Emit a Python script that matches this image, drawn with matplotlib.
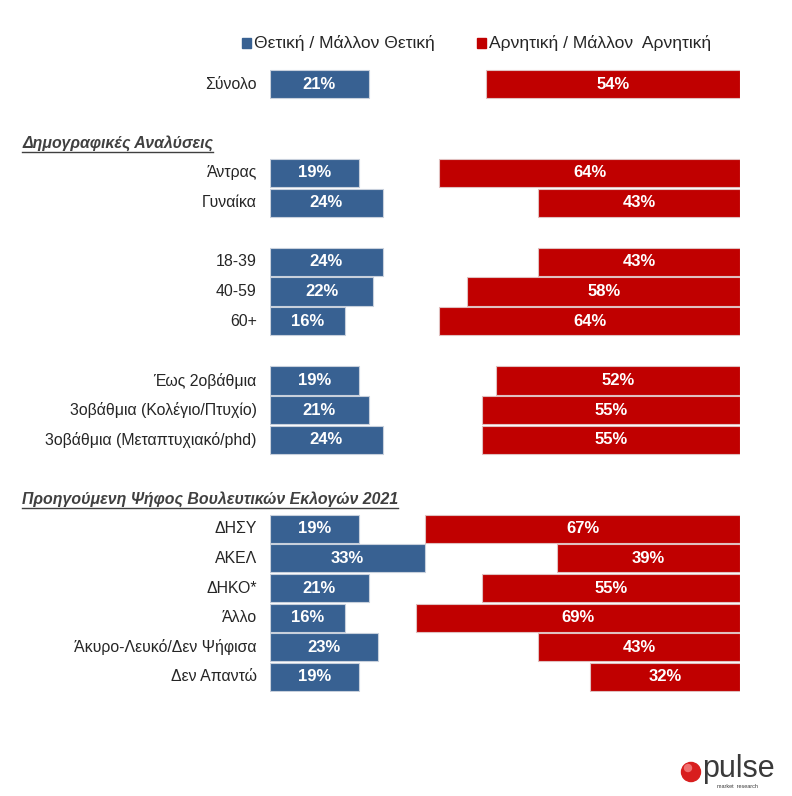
import matplotlib
matplotlib.use("Agg")
import matplotlib.pyplot as plt
from matplotlib.patches import Rectangle, Circle

plt.rcParams['font.family'] = ['Liberation Sans', 'DejaVu Sans']

# rows (label, slot) ; headers sit in their own slots
labels = ["Σύνολο",
          "Άντρας", "Γυναίκα",
          "18-39", "40-59", "60+",
          "Έως 2οβάθμια", "3οβάθμια (Κολέγιο/Πτυχίο)", "3οβάθμια (Μεταπτυχιακό/phd)",
          "ΔΗΣΥ", "ΑΚΕΛ", "ΔΗΚΟ*", "Άλλο", "Άκυρο-Λευκό/Δεν Ψήφισα", "Δεν Απαντώ"]
slots = [0, 3, 4, 6, 7, 8, 10, 11, 12, 15, 16, 17, 18, 19, 20]
positive = [21, 19, 24, 24, 22, 16, 19, 21, 24, 19, 33, 21, 16, 23, 19]
negative = [54, 64, 43, 43, 58, 64, 52, 55, 55, 67, 39, 55, 69, 43, 32]

headers = ["Δημογραφικές Αναλύσεις", "Προηγούμενη Ψήφος Βουλευτικών Εκλογών 2021"]
header_slots = [2, 14]

legend_labels = ["Θετική / Μάλλον Θετική", "Αρνητική / Μάλλον  Αρνητική"]

BLUE = "#386192"
RED = "#C00000"
W, H = 792, 796

fig = plt.figure(figsize=(W / 100, H / 100), dpi=100)
top_px, bot_px = 69.2, 691.8
ax = fig.add_axes([270 / W, 1 - bot_px / H, 470 / W, (bot_px - top_px) / H])
ax.set_xlim(0, 100)
ax.set_ylim(20.5, -0.5)
ax.axis("off")

bh = 0.95
ax.barh(slots, positive, height=bh, left=0, color=BLUE, edgecolor="#c8d0dc", linewidth=0.8)
ax.barh(slots, negative, height=bh, left=[100 - v for v in negative], color=RED,
        edgecolor="#e0c0c0", linewidth=0.8)

for lab, s, p, n in zip(labels, slots, positive, negative):
    ax.text(-2.8, s, lab, ha="right", va="center", fontsize=11.4, color="#262626")
    ax.text(p / 2, s, f"{p}%", ha="center", va="center", fontsize=12,
            fontweight="bold", color="white")
    ax.text(100 - n / 2, s, f"{n}%", ha="center", va="center", fontsize=12,
            fontweight="bold", color="white")

# section headers, underlined
fig.canvas.draw()
renderer = fig.canvas.get_renderer()
for hd, s in zip(headers, header_slots):
    y_fig = ax.transData.transform((0, s))[1] / fig.dpi / fig.get_size_inches()[1]
    t = fig.text(22 / W, y_fig, hd, ha="left", va="center", fontsize=11.4,
                 fontweight="bold", fontstyle="italic", color="#404040")
    bb = t.get_window_extent(renderer)
    yl = (bb.y0 - 1) / H
    fig.add_artist(plt.Line2D([bb.x0 / W, bb.x1 / W], [yl, yl], color="#404040", lw=1))

# legend
ly = 1 - 43 / H
sq = 9
for x0, lab, col in [(242, legend_labels[0], BLUE), (477, legend_labels[1], RED)]:
    fig.add_artist(Rectangle((x0 / W, ly - sq / 2 / H), sq / W, sq / H, color=col,
                             transform=fig.transFigure))
    fig.text((x0 + 12) / W, ly, lab, ha="left", va="center", fontsize=12.6,
             color="#262626")

# logo
fig.add_artist(Circle((691 / W, 1 - 772 / H), 9.5 / W, color="#d81e1e",
                      transform=fig.transFigure))
fig.add_artist(Circle((688 / W, 1 - 768 / H), 3.5 / W, color="#f07070",
                      transform=fig.transFigure))
fig.text(702 / W, 1 - 769 / H, "pulse", ha="left", va="center", fontsize=22,
         color="#3a3a3a")
fig.text(717 / W, 1 - 787 / H, "market  research", ha="left", va="center",
         fontsize=4, color="#3a3a3a")

fig.savefig("out.png", dpi=100)
